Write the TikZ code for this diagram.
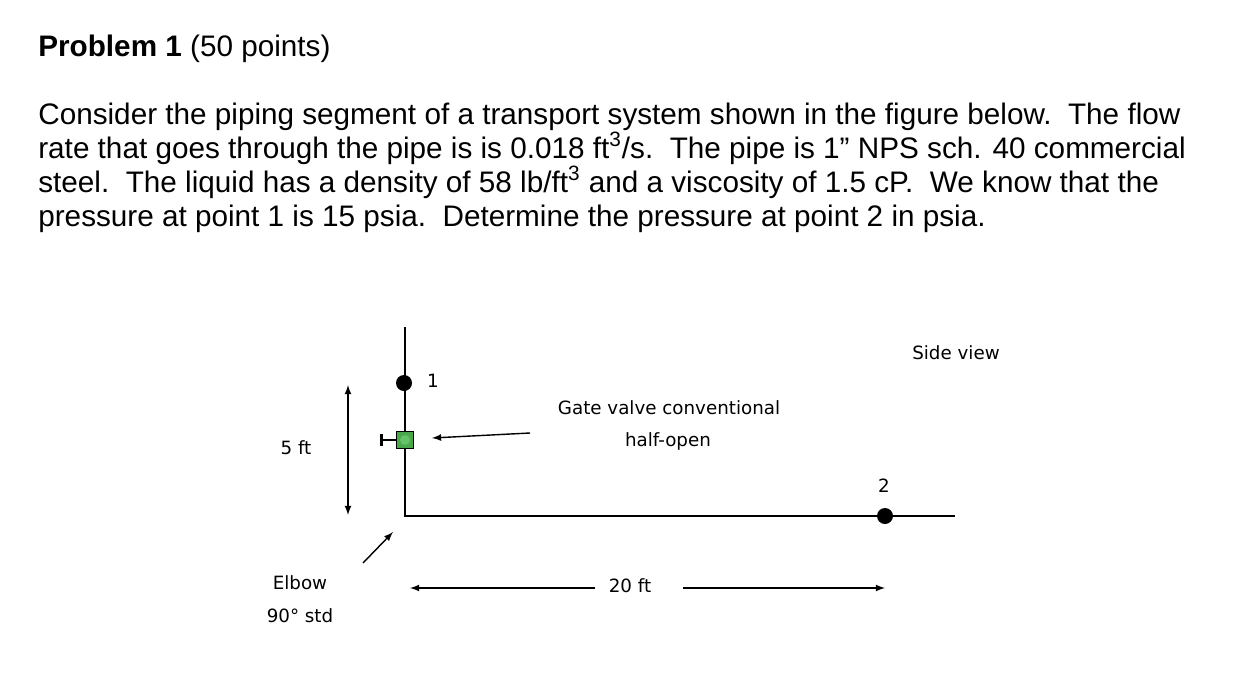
\documentclass[tikz,border=0pt]{standalone}
\usepackage{fontspec}
\setmainfont{Liberation Sans}
\newfontfamily\lab{DejaVu Sans}
\begin{document}
\begin{tikzpicture}[x=0.02cm,y=-0.02cm,
  body/.style={anchor=base west,inner sep=0,font=\fontsize{16.9pt}{19pt}\selectfont},
  small/.style={inner sep=0,font=\lab\fontsize{10.4pt}{12pt}\selectfont},
  pipe/.style={line width=1.2pt},
  arr/.style={-latex,line width=0.8pt}]
\useasboundingbox (0,0) rectangle (1244,680);
\node[body] (t0) at (38,56) {\textbf{Problem 1} (50 points)};
\node[body] (t1) at (38,124) {Consider the piping segment of a transport system shown in the figure below.\ \ The flow};
\node[body] (t2) at (38,158) {rate that goes through the pipe is is 0.018 ft\textsuperscript{3}/s.\ \ The pipe is 1” NPS sch. 40 commercial};
\node[body] (t3) at (38,192) {steel.\ \ The liquid has a density of 58 lb/ft\textsuperscript{3} and a viscosity of 1.5 cP.\ \ We know that the};
\node[body] (t4) at (38,226) {pressure at point 1 is 15 psia.\ \ Determine the pressure at point 2 in psia.};
\coordinate (top) at (405,327);
\coordinate (corner) at (405,516);
\coordinate (end) at (955,516);
\draw[pipe] (top) -- (corner) -- (end);
\fill (404,383) circle (8);
\node[small] (p1) at (433,381) {1};
\fill (885,516) circle (8);
\node[small] (p2) at (884,486) {2};
\node[draw=black,fill=green!50!black!70,minimum size=10pt,inner sep=0,line width=0.8pt] (valve) at (405,440) {};
\fill[green!60!black!60] (valve) circle (5);
\draw[line width=1pt] (valve.west) -- ++(-14,0);
\draw[line width=1.6pt] ([xshift=-14*0.02cm]valve.west) ++(0,-6) -- ++(0,12);
\node[small] (gv) at (669,408) {Gate valve conventional};
\node[small] (ho) at (668,441) {half-open};
\coordinate (ga) at (530,433);
\coordinate (gb) at (432,438);
\draw[arr] (ga) -- (gb);
\node[small] (sv) at (956,353) {Side view};
\node[small] (h5) at (296,448) {5 ft};
\coordinate (d1) at (348,385);
\coordinate (d2) at (348,515);
\draw[latex-latex,line width=0.8pt] (d1) -- (d2);
\node[small] (el) at (300,583) {Elbow};
\node[small] (es) at (300,616) {90° std};
\coordinate (e1) at (363,563);
\coordinate (e2) at (393,532);
\draw[arr] (e1) -- (e2);
\node[small] (l20) at (630,586) {20 ft};
\coordinate (a1) at (595,588);
\coordinate (a2) at (410,588);
\coordinate (b1) at (683,588);
\coordinate (b2) at (885,588);
\draw[arr] (a1) -- (a2);
\draw[arr] (b1) -- (b2);
\end{tikzpicture}
\end{document}
